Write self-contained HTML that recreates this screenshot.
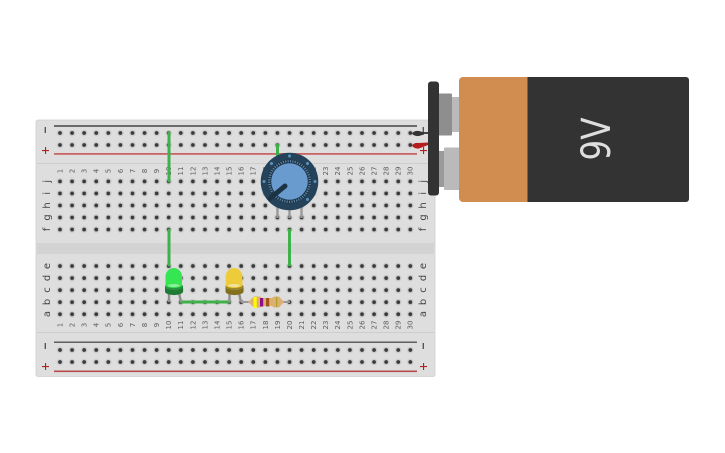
<!DOCTYPE html>
<html><head><meta charset="utf-8"><style>
html,body{margin:0;padding:0;background:#fff;width:725px;height:453px;overflow:hidden}
svg{display:block}
text{font-family:"DejaVu Sans","Liberation Sans",sans-serif}
.n{font-size:7px;fill:#5c5c5c;text-anchor:middle}
.l{font-size:10px;fill:#444;text-anchor:middle}
</style></head><body>
<svg width="725" height="453" viewBox="0 0 725 453" xmlns="http://www.w3.org/2000/svg">
<defs>
<pattern id="h1" x="54" y="127" width="12.08" height="12" patternUnits="userSpaceOnUse">
<circle cx="6" cy="6" r="3.4" fill="#cdcdcd"/><circle cx="6" cy="6" r="1.9" fill="#3a3a3a"/></pattern>
<pattern id="h2" x="54" y="175.4" width="12.08" height="12.03" patternUnits="userSpaceOnUse">
<circle cx="6" cy="6" r="3.4" fill="#cdcdcd"/><circle cx="6" cy="6" r="1.9" fill="#3a3a3a"/></pattern>
<pattern id="h3" x="54" y="260" width="12.08" height="12.05" patternUnits="userSpaceOnUse">
<circle cx="6" cy="6" r="3.4" fill="#cdcdcd"/><circle cx="6" cy="6" r="1.9" fill="#3a3a3a"/></pattern>
<pattern id="h4" x="54" y="344" width="12.08" height="12" patternUnits="userSpaceOnUse">
<circle cx="6" cy="6" r="3.4" fill="#cdcdcd"/><circle cx="6" cy="6" r="1.9" fill="#3a3a3a"/></pattern>
</defs>

<!-- breadboard -->
<rect x="36" y="120" width="399" height="256.500" rx="2" fill="#dedede" stroke="#d0d0d0" stroke-width="0.8"/>
<rect x="37" y="243" width="397" height="11" fill="#d3d3d3"/>
<line x1="37" y1="163.500" x2="434" y2="163.500" stroke="#cdcdcd"/>
<line x1="37" y1="332.500" x2="434" y2="332.500" stroke="#cdcdcd"/>
<rect x="54" y="125" width="363" height="2" fill="#6a6a6a"/>
<rect x="54" y="153" width="363" height="1.800" fill="#c96565"/>
<rect x="54" y="341.500" width="363" height="1.400" fill="#555"/>
<rect x="54" y="370.500" width="363" height="1.600" fill="#b84a4a"/>

<rect x="54" y="127" width="362.400" height="24" fill="url(#h1)"/>
<rect x="54" y="175.400" width="362.400" height="60.100" fill="url(#h2)"/>
<rect x="54" y="260" width="362.400" height="60.200" fill="url(#h3)"/>
<rect x="54" y="344" width="362.400" height="24" fill="url(#h4)"/>

<!-- rail signs -->
<g fill="#333">
<rect x="44.700" y="127" width="1.100" height="6"/>
<rect x="44.700" y="343" width="1.100" height="6"/>
<rect x="422.700" y="343" width="1.100" height="6"/>
<rect x="422.700" y="127" width="1.100" height="6"/>
</g>
<g fill="#b02020">
<rect x="42" y="150" width="7" height="1.100"/><rect x="45" y="147" width="1.100" height="7"/>
<rect x="42" y="366" width="7" height="1.100"/><rect x="45" y="363" width="1.100" height="7"/>
<rect x="420" y="366" width="7" height="1.100"/><rect x="423" y="363" width="1.100" height="7"/>
<rect x="420" y="150" width="7" height="1.100"/><rect x="423" y="147" width="1.100" height="7"/>
</g>

<!-- labels: rotated -->
<g transform="rotate(-90)">
<text class="n" x="-171" y="62.400">1</text><text class="n" x="-171" y="74.500">2</text><text class="n" x="-171" y="86.600">3</text><text class="n" x="-171" y="98.600">4</text><text class="n" x="-171" y="110.700">5</text><text class="n" x="-171" y="122.800">6</text><text class="n" x="-171" y="134.900">7</text><text class="n" x="-171" y="147">8</text><text class="n" x="-171" y="159">9</text><text class="n" x="-171" y="171.100">10</text><text class="n" x="-171" y="183.200">11</text><text class="n" x="-171" y="195.300">12</text><text class="n" x="-171" y="207.400">13</text><text class="n" x="-171" y="219.400">14</text><text class="n" x="-171" y="231.500">15</text><text class="n" x="-171" y="243.600">16</text><text class="n" x="-171" y="255.700">17</text><text class="n" x="-171" y="267.800">18</text><text class="n" x="-171" y="279.800">19</text><text class="n" x="-171" y="291.900">20</text><text class="n" x="-171" y="304">21</text><text class="n" x="-171" y="316.100">22</text><text class="n" x="-171" y="328.200">23</text><text class="n" x="-171" y="340.200">24</text><text class="n" x="-171" y="352.300">25</text><text class="n" x="-171" y="364.400">26</text><text class="n" x="-171" y="376.500">27</text><text class="n" x="-171" y="388.600">28</text><text class="n" x="-171" y="400.600">29</text><text class="n" x="-171" y="412.700">30</text>
<text class="n" x="-325" y="62.400">1</text><text class="n" x="-325" y="74.500">2</text><text class="n" x="-325" y="86.600">3</text><text class="n" x="-325" y="98.600">4</text><text class="n" x="-325" y="110.700">5</text><text class="n" x="-325" y="122.800">6</text><text class="n" x="-325" y="134.900">7</text><text class="n" x="-325" y="147">8</text><text class="n" x="-325" y="159">9</text><text class="n" x="-325" y="171.100">10</text><text class="n" x="-325" y="183.200">11</text><text class="n" x="-325" y="195.300">12</text><text class="n" x="-325" y="207.400">13</text><text class="n" x="-325" y="219.400">14</text><text class="n" x="-325" y="231.500">15</text><text class="n" x="-325" y="243.600">16</text><text class="n" x="-325" y="255.700">17</text><text class="n" x="-325" y="267.800">18</text><text class="n" x="-325" y="279.800">19</text><text class="n" x="-325" y="291.900">20</text><text class="n" x="-325" y="304">21</text><text class="n" x="-325" y="316.100">22</text><text class="n" x="-325" y="328.200">23</text><text class="n" x="-325" y="340.200">24</text><text class="n" x="-325" y="352.300">25</text><text class="n" x="-325" y="364.400">26</text><text class="n" x="-325" y="376.500">27</text><text class="n" x="-325" y="388.600">28</text><text class="n" x="-325" y="400.600">29</text><text class="n" x="-325" y="412.700">30</text>
<text class="l" x="-181.300" y="50">j</text><text class="l" x="-193.400" y="50">i</text><text class="l" x="-205.500" y="50">h</text><text class="l" x="-217.500" y="50">g</text><text class="l" x="-229.500" y="50">f</text>
<text class="l" x="-181.300" y="426">j</text><text class="l" x="-193.400" y="426">i</text><text class="l" x="-205.500" y="426">h</text><text class="l" x="-217.500" y="426">g</text><text class="l" x="-229.500" y="426">f</text>
<text class="l" x="-266" y="50">e</text><text class="l" x="-278" y="50">d</text><text class="l" x="-290" y="50">c</text><text class="l" x="-302" y="50">b</text><text class="l" x="-314" y="50">a</text>
<text class="l" x="-266" y="426">e</text><text class="l" x="-278" y="426">d</text><text class="l" x="-290" y="426">c</text><text class="l" x="-302" y="426">b</text><text class="l" x="-314" y="426">a</text>
</g>

<!-- wires -->
<g stroke="#3fb04a" stroke-width="3" fill="none" stroke-linecap="round">
<line x1="169" y1="133" x2="169" y2="181"/>
<line x1="169" y1="230" x2="169" y2="265"/>
<line x1="277.500" y1="145" x2="277.500" y2="160"/>
<line x1="289.500" y1="230" x2="289.500" y2="265"/>
<line x1="181" y1="302" x2="229" y2="302"/>
</g>

<!-- green LED -->
<g>
<path d="M169 292V302M179 293L181 302" stroke="#8f8f8f" stroke-width="2.400" fill="none"/>
<path d="M165 286V291.500a8.750 3.500 0 0 0 18 0V286Z" fill="#1f7a33"/>
<ellipse cx="174" cy="286.500" rx="9" ry="3.800" fill="#2a9440"/>
<path d="M165.500 276.500a8.200 8.500 0 0 1 16.500 0V285a8.200 3 0 0 1-16.500 0Z" fill="#35e552"/>
<ellipse cx="173.800" cy="285.500" rx="6" ry="1.500" fill="#8fee9e"/>
</g>
<!-- yellow LED -->
<g>
<path d="M229.500 292V302M239 293L241 302" stroke="#8f8f8f" stroke-width="2.400" fill="none"/>
<path d="M225.500 286V291.500a8.750 3.500 0 0 0 18 0V286Z" fill="#83701f"/>
<ellipse cx="234.400" cy="286.500" rx="9" ry="3.800" fill="#9c872c"/>
<path d="M225.700 276.500a8.300 8.500 0 0 1 16.700 0V285a8.300 3 0 0 1-16.700 0Z" fill="#edcb3a"/>
<ellipse cx="234" cy="285.500" rx="6" ry="1.500" fill="#f0e3a0"/>
</g>

<!-- resistor -->
<g>
<line x1="241" y1="302" x2="290" y2="302" stroke="#999" stroke-width="2"/>
<path d="M248 302L254 296.500H260L262 298H272L274 296.500H279L284 302L279 307.500H274L272 306H262L260 307.500H254Z" fill="#deb070"/>
<rect x="253.500" y="297" width="3.200" height="11" fill="#fdfd00"/>
<rect x="260" y="298" width="3.200" height="8.500" fill="#8c0c8c"/>
<rect x="266" y="298" width="3.200" height="8.500" fill="#a2561c"/>
<rect x="276" y="297" width="1.200" height="10" fill="#a9a030"/>
</g>

<!-- potentiometer -->
<g>
<g stroke="#999" stroke-width="2.400"><line x1="277.500" y1="205" x2="277.500" y2="218"/><line x1="289.500" y1="205" x2="289.500" y2="218"/><line x1="301.500" y1="205" x2="301.500" y2="218"/></g>
<circle cx="289.500" cy="181.500" r="28.800" fill="#24435a"/>
<circle cx="289.500" cy="181.500" r="22" fill="#1c3346"/>
<circle cx="289.500" cy="181.500" r="20.300" fill="none" stroke="#5f88aa" stroke-width="2.400" stroke-dasharray="1.100 1.300"/>
<circle cx="289.500" cy="181.500" r="18.300" fill="#6a9bcf"/>
<g fill="#5f92b8">
<circle cx="289.500" cy="156" r="1.500"/><circle cx="307.500" cy="163.500" r="1.500"/><circle cx="315" cy="181.500" r="1.500"/><circle cx="307.500" cy="199.500" r="1.500"/><circle cx="271.500" cy="163.500" r="1.500"/><circle cx="264" cy="181.500" r="1.500"/>
</g>
<line x1="285" y1="186" x2="270" y2="198.500" stroke="#1c3346" stroke-width="5" stroke-linecap="round"/>
</g>

<!-- probes -->
<path d="M420 133H428" stroke="#333" stroke-width="1.800"/>
<path d="M412 133.500Q414 130.500 419 131L424 132.500V134.500L419 136Q414 136.500 412 133.500Z" fill="#333"/>
<path d="M412 145.500Q414 142.500 419 143L428 142.500V145L419 148.500Q414 149 412 145.500Z" fill="#b61c1c"/>

<!-- battery -->
<rect x="452" y="97" width="9" height="35" fill="#bababa"/>
<rect x="438" y="93.500" width="14" height="42" rx="1" fill="#8e8e8e"/>
<rect x="437" y="151" width="8" height="36" fill="#9a9a9a"/>
<rect x="444" y="147.500" width="16" height="42.500" rx="1" fill="#bababa"/>
<rect x="428" y="81.500" width="11" height="114" rx="3" fill="#333"/>
<path d="M463 77H528V202H463a4 4 0 0 1-4-4V81a4 4 0 0 1 4-4Z" fill="#d18d50"/>
<path d="M527.500 77H686a3 3 0 0 1 3 3V199a3 3 0 0 1-3 3H527.500Z" fill="#333"/>
<text transform="translate(610,160.500) rotate(-90)" font-size="40" fill="#dedede" textLength="43" lengthAdjust="spacingAndGlyphs" style="font-family:'DejaVu Sans',sans-serif">9V</text>
</svg>
</body></html>
